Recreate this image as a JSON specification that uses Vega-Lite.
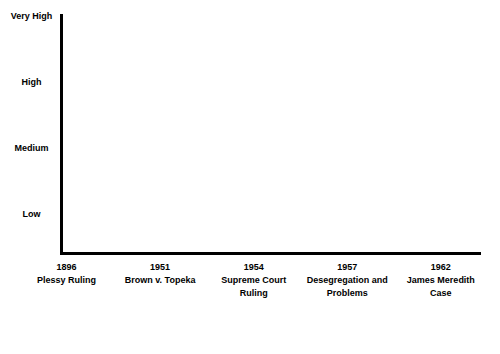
{
  "$schema": "https://vega.github.io/schema/vega-lite/v6.json",
  "width": 418,
  "height": 238,
  "autosize": {"type": "none"},
  "padding": {"left": 61, "top": 15, "right": 21, "bottom": 101},
  "background": "white",
  "config": {
    "view": {"stroke": null},
    "axis": {
      "domainColor": "black",
      "domainWidth": 3,
      "domainCap": "square",
      "ticks": false,
      "grid": false,
      "labelFont": "Liberation Sans",
      "labelFontWeight": "bold",
      "labelFontSize": 9,
      "labelColor": "black",
      "title": null
    }
  },
  "layer": [
    {
      "data": {"values": [
        {"event": "1896|Plessy Ruling"},
        {"event": "1951|Brown v. Topeka"},
        {"event": "1954|Supreme Court|Ruling"},
        {"event": "1957|Desegregation and|Problems"},
        {"event": "1962|James Meredith|Case"}
      ]},
      "mark": {"type": "point", "opacity": 0},
      "encoding": {
        "x": {
          "field": "event",
          "type": "ordinal",
          "sort": null,
          "scale": {"type": "point", "padding": 0.233, "align": 0.114},
          "axis": {
            "labelAngle": 0,
            "labelExpr": "split(datum.value, '|')",
            "labelBaseline": "top",
            "labelPadding": 9,
            "labelLineHeight": 13,
            "labelOverlap": false
          }
        }
      }
    },
    {
      "data": {"values": [
        {"level": "Low"},
        {"level": "Medium"},
        {"level": "High"},
        {"level": "Very High"}
      ]},
      "mark": {"type": "point", "opacity": 0},
      "encoding": {
        "y": {
          "field": "level",
          "type": "ordinal",
          "sort": ["Very High", "High", "Medium", "Low"],
          "scale": {"type": "point", "padding": 0.303, "align": 0},
          "axis": {
            "labelAlign": "center",
            "labelBaseline": "middle",
            "labelPadding": 30
          }
        }
      }
    }
  ]
}
